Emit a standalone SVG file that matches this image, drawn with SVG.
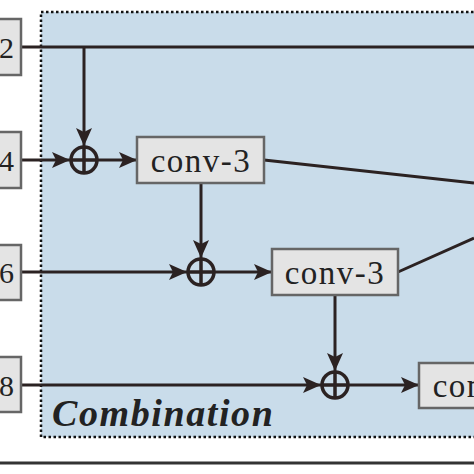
<svg xmlns="http://www.w3.org/2000/svg" width="474" height="474" viewBox="0 0 474 474">
<defs>
<marker id="arr" markerUnits="userSpaceOnUse" markerWidth="20" markerHeight="18" refX="18" refY="8" orient="auto">
<path d="M0,0 L18,8 L0,16 L4,8 z" fill="#2b2222"/>
</marker>
<style>
.box{fill:#e4e4e4;stroke:#666;stroke-width:2.5}
.lbl{font-family:"Liberation Serif","Times New Roman",serif;font-size:33px;fill:#222;letter-spacing:1.5px;text-anchor:middle}
.num{font-family:"Liberation Serif","Times New Roman",serif;font-size:30px;fill:#222;text-anchor:end}
.ln{stroke:#2b2222;stroke-width:3;fill:none}
.sum{fill:none;stroke:#2b2222;stroke-width:3.5}
</style>
</defs>
<rect width="474" height="474" fill="#ffffff"/>
<g id="combination">
<rect x="41" y="12" width="500" height="425" fill="#c9dcea" stroke="#111" stroke-width="2.5" stroke-dasharray="2.5 2.5"/>
<text x="52" y="426" font-family="'Liberation Serif','Times New Roman',serif" font-size="38" font-weight="bold" font-style="italic" letter-spacing="1.6" fill="#222">Combination</text>
</g>
<g id="connectors">
<path class="ln" d="M21,47 H474"/>
<path class="ln" d="M84,47 V146" marker-end="url(#arr)"/>
<path class="ln" d="M21,160 H70" marker-end="url(#arr)"/>
<path class="ln" d="M98,160 H137" marker-end="url(#arr)"/>
<path class="ln" d="M264,160 L474,183"/>
<path class="ln" d="M201,183 V258" marker-end="url(#arr)"/>
<path class="ln" d="M21,272 H187" marker-end="url(#arr)"/>
<path class="ln" d="M215,272 H272" marker-end="url(#arr)"/>
<path class="ln" d="M398,272 L474,238"/>
<path class="ln" d="M335,295 V371" marker-end="url(#arr)"/>
<path class="ln" d="M21,385 H321" marker-end="url(#arr)"/>
<path class="ln" d="M349,385 H419" marker-end="url(#arr)"/>
</g>
<g id="in2"><rect class="box" x="-10" y="19" width="31" height="56"/><text class="num" x="14" y="58">2</text></g>
<g id="in4"><rect class="box" x="-10" y="132" width="31" height="56"/><text class="num" x="14" y="171">4</text></g>
<g id="in6"><rect class="box" x="-10" y="245" width="31" height="55"/><text class="num" x="14" y="283">6</text></g>
<g id="in8"><rect class="box" x="-10" y="357" width="31" height="55"/><text class="num" x="14" y="396">8</text></g>
<g id="sum1"><circle class="sum" cx="84" cy="160" r="13"/><path class="sum" d="M71,160 H97 M84,147 V173"/></g>
<g id="sum2"><circle class="sum" cx="201" cy="272" r="13"/><path class="sum" d="M188,272 H214 M201,259 V285"/></g>
<g id="sum3"><circle class="sum" cx="335" cy="385" r="13"/><path class="sum" d="M322,385 H348 M335,372 V398"/></g>
<g id="conv1"><rect class="box" x="137" y="137" width="127" height="46"/><text class="lbl" x="201" y="172">conv-3</text></g>
<g id="conv2"><rect class="box" x="272" y="249" width="126" height="46"/><text class="lbl" x="335" y="284">conv-3</text></g>
<g id="conv3"><rect class="box" x="419" y="363" width="127" height="45"/><text class="lbl" x="483" y="397">conv-3</text></g>
<path d="M0,463 H474" stroke="#333" stroke-width="3"/>
</svg>
